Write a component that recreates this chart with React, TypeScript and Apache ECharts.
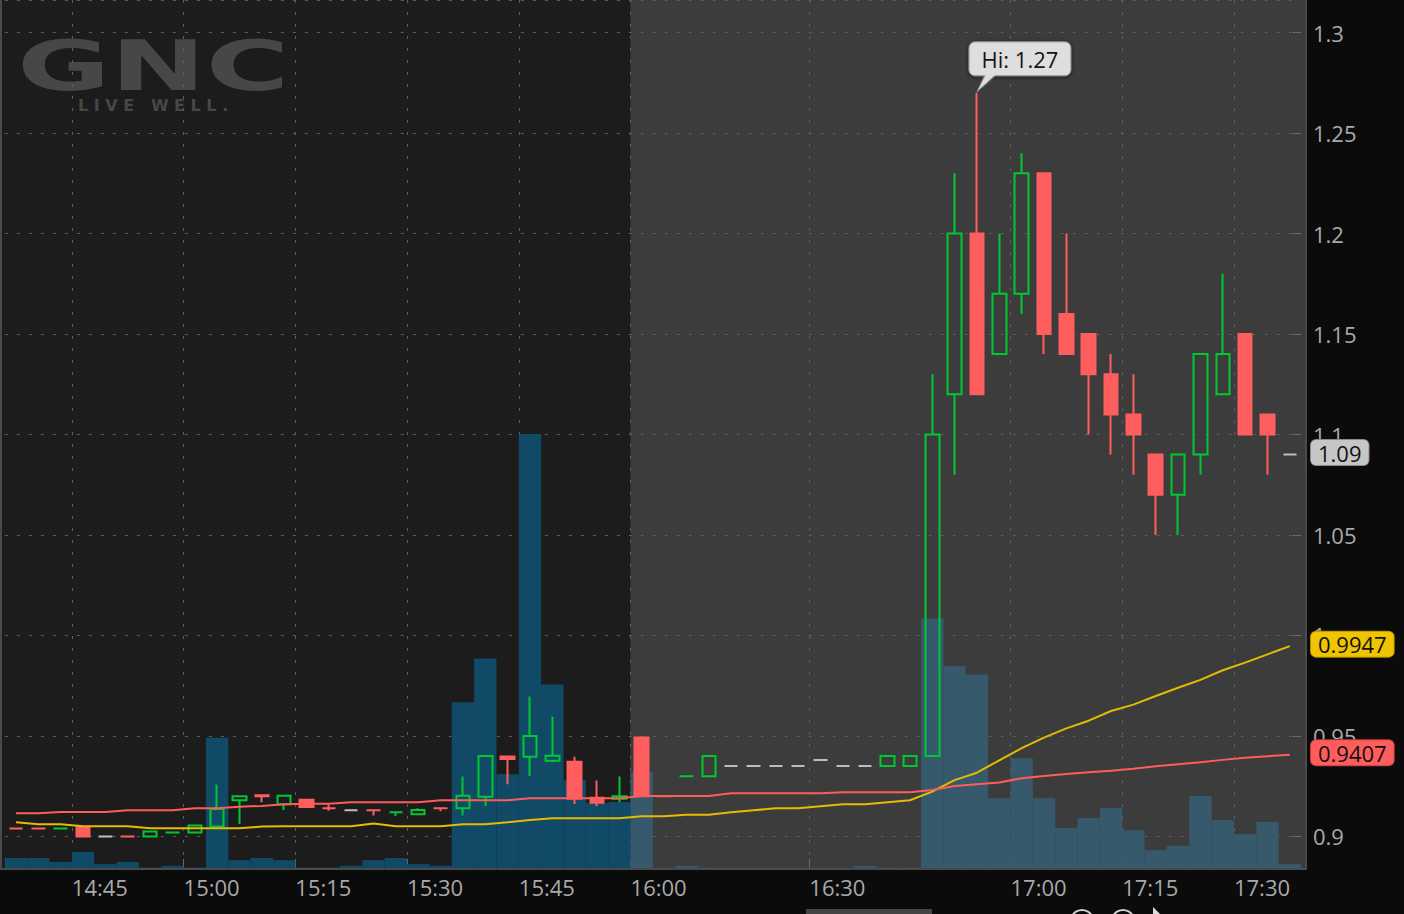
import React, { useEffect, useRef } from 'react';
import * as echarts from 'echarts';

// ---- data ----
const barTimes = [
  '14:36', '14:39', '14:42', '14:45', '14:48', '14:51', '14:54', '14:57',
  '15:00', '15:03', '15:06', '15:09', '15:12', '15:15', '15:18', '15:21', '15:24', '15:27',
  '15:30', '15:33', '15:36', '15:39', '15:42', '15:45', '15:48', '15:51', '15:54', '15:57',
  '16:00', '16:03', '16:06', '16:12', '16:18', '16:21', '16:24', '16:27',
  '16:30', '16:33', '16:36', '16:39', '16:42', '16:48', '16:51', '16:54', '16:57',
  '17:00', '17:03', '17:06', '17:09', '17:12', '17:15', '17:18', '17:21', '17:24', '17:27',
  '17:30', '17:33', '17:36',
];
const sessionEndTime = '17:39';
const extendedHoursStart = '16:00';

const opens = [
  0.904, 0.904, 0.904, 0.9045, 0.9, 0.9, 0.9, 0.902, 0.902, 0.905,
  0.918, 0.9205, 0.916, 0.9183, 0.914, 0.913, 0.913, 0.912, 0.911, 0.914,
  0.914, 0.9198, 0.9398, 0.9397, 0.9377, 0.9372, 0.9193, 0.9187, 0.9492, 0.92,
  0.93, 0.93, 0.935, 0.935, 0.935, 0.935, 0.938, 0.935, 0.935, 0.935,
  0.935, 0.94, 1.12, 1.2, 1.14, 1.17, 1.23, 1.16, 1.15, 1.13,
  1.11, 1.09, 1.07, 1.09, 1.12, 1.15, 1.11, 1.09,
];
const closes = [
  0.904, 0.904, 0.904, 0.9, 0.9, 0.9, 0.9025, 0.902, 0.9055, 0.9137,
  0.92, 0.92, 0.9203, 0.9147, 0.914, 0.913, 0.913, 0.912, 0.9132, 0.914,
  0.9203, 0.94, 0.9385, 0.95, 0.9402, 0.9187, 0.9168, 0.92, 0.92, 0.92,
  0.93, 0.94, 0.935, 0.935, 0.935, 0.935, 0.938, 0.935, 0.935, 0.94,
  0.94, 1.1, 1.2, 1.12, 1.17, 1.23, 1.15, 1.14, 1.13, 1.11,
  1.1, 1.07, 1.09, 1.14, 1.14, 1.1, 1.1, 1.09,
];
const lows = [
  0.904, 0.904, 0.904, 0.9, 0.9, 0.9, 0.9, 0.902, 0.902, 0.905,
  0.9062, 0.917, 0.9132, 0.9147, 0.9128, 0.913, 0.9104, 0.9102, 0.911, 0.9125,
  0.9104, 0.9152, 0.926, 0.93, 0.9369, 0.9162, 0.9152, 0.917, 0.92, 0.92,
  0.93, 0.93, 0.935, 0.935, 0.935, 0.935, 0.938, 0.935, 0.935, 0.935,
  0.935, 0.94, 1.08, 1.12, 1.14, 1.16, 1.14, 1.14, 1.1, 1.09,
  1.08, 1.05, 1.05, 1.08, 1.12, 1.1, 1.08, 1.09,
];
const highs = [
  0.904, 0.904, 0.904, 0.9045, 0.9, 0.9, 0.9027, 0.902, 0.9055, 0.9258,
  0.92, 0.9205, 0.9203, 0.9183, 0.9158, 0.913, 0.913, 0.912, 0.914, 0.914,
  0.9298, 0.94, 0.9398, 0.9696, 0.9596, 0.9397, 0.9278, 0.9298, 0.9492, 0.92,
  0.93, 0.94, 0.935, 0.935, 0.935, 0.935, 0.938, 0.935, 0.935, 0.94,
  0.94, 1.13, 1.23, 1.27, 1.2, 1.24, 1.23, 1.2, 1.15, 1.14,
  1.13, 1.09, 1.09, 1.14, 1.18, 1.15, 1.11, 1.09,
];
// candle tone as drawn: u = up (hollow green), d = down (red), n = unchanged (grey)
const tones = [
  'd', 'd', 'u', 'd', 'n', 'd', 'u', 'u', 'u', 'u',
  'u', 'd', 'u', 'd', 'd', 'n', 'd', 'u', 'u', 'd',
  'u', 'u', 'd', 'u', 'u', 'd', 'd', 'u', 'd', 'd',
  'u', 'u', 'n', 'n', 'n', 'n', 'n', 'n', 'n', 'u',
  'u', 'u', 'u', 'd', 'u', 'u', 'd', 'd', 'd', 'd',
  'd', 'd', 'u', 'u', 'u', 'd', 'd', 'n',
];
// volume in thousands of shares
const volumesK = [
  23, 23, 14, 37, 9, 14, 1, 5, 1, 300,
  18, 23, 18, 1, 1, 5, 18, 23, 9, 5,
  382, 483, 216, 1000, 423, 202, 150, 152, 221, 0.5,
  5, 1, 0.5, 0.5, 0.5, 0.5, 0.5, 0.5, 5, 1,
  1, 575, 465, 446, 161, 253, 161, 92, 115, 138,
  87, 41, 51, 166, 110, 78, 106, 9,
];
const maFast = [
  0.9071, 0.9061, 0.9061, 0.9051, 0.9051, 0.9051, 0.9041, 0.9041, 0.9041, 0.9041,
  0.9041, 0.9049, 0.9051, 0.9051, 0.9051, 0.9051, 0.9064, 0.9051, 0.9051, 0.9051,
  0.9061, 0.9061, 0.9071, 0.9082, 0.909, 0.909, 0.909, 0.909, 0.91, 0.91,
  0.9108, 0.9108, 0.912, 0.913, 0.914, 0.914, 0.915, 0.916, 0.916, 0.917,
  0.918, 0.9223, 0.928, 0.9317, 0.9379, 0.9439, 0.9492, 0.9538, 0.9576, 0.9624,
  0.9656, 0.9699, 0.974, 0.9779, 0.9827, 0.9865, 0.9906, 0.9947,
];
const maSlow = [
  0.9115, 0.9115, 0.9122, 0.9122, 0.9122, 0.913, 0.913, 0.913, 0.914, 0.914,
  0.9148, 0.9152, 0.916, 0.9163, 0.9163, 0.917, 0.917, 0.917, 0.917, 0.918,
  0.918, 0.918, 0.918, 0.919, 0.919, 0.919, 0.919, 0.919, 0.9201, 0.9201,
  0.9201, 0.9201, 0.9215, 0.9215, 0.9215, 0.9215, 0.9215, 0.922, 0.922, 0.922,
  0.922, 0.9231, 0.9251, 0.926, 0.9268, 0.929, 0.9301, 0.9311, 0.9319, 0.9327,
  0.9337, 0.9349, 0.9359, 0.9369, 0.9381, 0.9391, 0.9399, 0.9407,
];
const priceTicks = [0.9, 0.95, 1, 1.05, 1.1, 1.15, 1.2, 1.25, 1.3];
const priceRange = [0.8843, 1.3162];
const volumeAxisMaxK = 2000;
const logoText = 'GNC';
const logoTagline = 'L I V E   W E L L .';

// ---- styles ----
const FONT = "'Open Sans', sans-serif";
const GREEN = '#00c832';
const RED = '#ff5e5e';
const GREY = '#bdbdbd';
const YELLOW = '#e6bb00';
const SLOW_RED = '#ff5c5c';
const GRID_LINE = '#5e5e5e';
const AXIS_TEXT = '#a9a9a9';

const toneStyle: Record<string, { fill: string; stroke: string }> = {
  u: { fill: 'rgba(0,0,0,0)', stroke: GREEN },
  d: { fill: RED, stroke: RED },
  n: { fill: GREY, stroke: GREY },
};

export default function App() {
  const ref = useRef<HTMLDivElement>(null);

  useEffect(() => {
    const el = ref.current!;
    const chart = echarts.init(el, undefined, { renderer: 'svg' });

    const H = 914;
    const gridLeft = 4.8;
    const gridRight = 103;
    const gridBottom = 46;
    const plotBottom = H - gridBottom;
    const plotRightBorder = 1305;

    const boundaryTimes = [...barTimes, sessionEndTime];
    const isQuarter = (_i: number, v: string) => {
      const m = parseInt(String(v).split(':')[1], 10);
      return m % 15 === 0;
    };

    const candleData = barTimes.map((_, i) => {
      const s = toneStyle[tones[i]];
      return {
        value: [opens[i], closes[i], lows[i], highs[i]],
        itemStyle: {
          color: s.fill,
          color0: s.fill,
          borderColor: s.stroke,
          borderColor0: s.stroke,
          borderColorDoji: s.stroke,
        },
      };
    });

    const volumeData = barTimes.map((t, i) => ({
      value: volumesK[i],
      itemStyle: { color: t >= extendedHoursStart ? '#365a6c' : '#114a66' },
    }));

    const lastIdx = barTimes.length - 1;
    const lastClose = closes[lastIdx];
    const lastFast = maFast[lastIdx];
    const lastSlow = maSlow[lastIdx];

    const option: any = {
      animation: false,
      backgroundColor: '#0b0b0b',
      textStyle: { fontFamily: FONT },
      grid: { left: gridLeft, right: gridRight, top: 0, bottom: gridBottom, containLabel: false },
      xAxis: [
        {
          type: 'category',
          data: barTimes,
          boundaryGap: true,
          position: 'top',
          show: false,
        },
        {
          type: 'category',
          data: boundaryTimes,
          boundaryGap: false,
          position: 'bottom',
          axisLine: { show: false },
          axisTick: {
            show: true,
            inside: true,
            length: 9,
            interval: isQuarter,
            lineStyle: { color: '#6a6a6a', width: 1 },
          },
          splitLine: {
            show: true,
            interval: isQuarter,
            lineStyle: { color: GRID_LINE, type: [3, 9], width: 1 },
          },
          axisLabel: {
            interval: isQuarter,
            align: 'left',
            color: AXIS_TEXT,
            fontSize: 22,
            fontFamily: FONT,
            margin: 8,
          },
        },
      ],
      yAxis: [
        {
          type: 'value',
          position: 'right',
          min: priceRange[0],
          max: priceRange[1],
          splitNumber: 8,
          minInterval: 0.05,
          maxInterval: 0.05,
          scale: true,
          axisLine: { show: false },
          axisTick: { show: true, inside: true, length: 8, lineStyle: { color: '#6a6a6a' } },
          splitLine: { show: true, lineStyle: { color: GRID_LINE, type: [3, 9], width: 1 } },
          axisLabel: {
            color: AXIS_TEXT,
            fontSize: 22,
            fontFamily: FONT,
            margin: 12,
            padding: [4, 0, 0, 0],
            showMinLabel: false,
            showMaxLabel: false,
            formatter: (v: number) => {
              const r = Math.round(v * 100) / 100;
              return Math.abs(v - r) < 1e-6 && priceTicks.includes(r) ? String(r) : '';
            },
          },
        },
        {
          type: 'value',
          position: 'left',
          min: 0,
          max: volumeAxisMaxK,
          show: false,
          splitLine: { show: false },
        },
      ],
      series: [
        {
          name: 'Volume',
          type: 'bar',
          xAxisIndex: 0,
          yAxisIndex: 1,
          data: volumeData,
          barCategoryGap: '0%',
          silent: true,
        },
        {
          name: 'MA fast',
          type: 'line',
          xAxisIndex: 0,
          yAxisIndex: 0,
          data: maFast,
          showSymbol: false,
          silent: true,
          lineStyle: { color: YELLOW, width: 2 },
        },
        {
          name: 'MA slow',
          type: 'line',
          xAxisIndex: 0,
          yAxisIndex: 0,
          data: maSlow,
          showSymbol: false,
          silent: true,
          lineStyle: { color: SLOW_RED, width: 2 },
        },
        {
          name: 'GNC',
          type: 'candlestick',
          xAxisIndex: 0,
          yAxisIndex: 0,
          data: candleData,
          barWidth: 14,
          silent: true,
          itemStyle: { borderWidth: 2 },
        },
      ],
    };

    chart.setOption(option);

    // positions through the chart's own scales
    const ahX = chart.convertToPixel({ xAxisIndex: 1 }, extendedHoursStart) as number;
    const maxHigh = Math.max(...highs);
    const hiIdx = highs.indexOf(maxHigh);
    const [hx, hy] = chart.convertToPixel({ seriesIndex: 3 }, [hiIdx, maxHigh]) as number[];
    const yOf = (v: number) => (chart.convertToPixel({ seriesIndex: 3 }, [lastIdx, v]) as number[])[1];

    const priceTag = (value: number, text: string, bg: string, border: string) => ({
      type: 'text', silent: true, z: 40, x: 1311, y: yOf(value) - 2,
      style: {
        text,
        font: `22px ${FONT}`,
        fill: '#111',
        textVerticalAlign: 'middle',
        backgroundColor: bg,
        borderColor: border,
        borderWidth: 1,
        borderRadius: 5,
        padding: [2, 7, 1, 7],
      },
    });

    const calloutFill = '#dedede';
    const calloutStroke = '#8f8f8f';

    chart.setOption({
      graphic: [
        {
          type: 'rect', silent: true, z: -30,
          shape: { x: 2, y: 0, width: plotRightBorder - 2, height: plotBottom },
          style: { fill: '#1c1c1c' },
        },
        {
          type: 'rect', silent: true, z: -29,
          shape: { x: ahX, y: 0, width: plotRightBorder - ahX, height: plotBottom },
          style: { fill: '#3c3c3c' },
        },
        {
          type: 'text', silent: true, z: -20, x: 17, y: 66, scaleX: 1.65,
          style: {
            text: logoText,
            font: 'bold 69px "DejaVu Sans"',
            fill: '#474747',
            textVerticalAlign: 'middle',
          },
        },
        {
          type: 'text', silent: true, z: -20, x: 78, y: 105,
          style: {
            text: logoTagline,
            font: 'bold 16px "DejaVu Sans"',
            fill: '#474747',
            textVerticalAlign: 'middle',
          },
        },
        // plot borders
        { type: 'rect', silent: true, z: 20, shape: { x: 0, y: 0, width: 2, height: plotBottom + 2 }, style: { fill: '#4a4a4a' } },
        { type: 'rect', silent: true, z: 20, shape: { x: plotRightBorder, y: 0, width: 2, height: plotBottom + 2 }, style: { fill: '#4a4a4a' } },
        { type: 'rect', silent: true, z: 20, shape: { x: 0, y: plotBottom, width: plotRightBorder + 2, height: 2 }, style: { fill: '#4a4a4a' } },
        // last-value tags on the price scale
        priceTag(lastClose, String(lastClose), '#c6c6c6', '#8a8a8a'),
        priceTag(lastFast, lastFast.toFixed(4), '#f0c400', '#b08f00'),
        priceTag(lastSlow, lastSlow.toFixed(4), '#ff5c5c', '#c04040'),
        // high callout
        {
          type: 'rect', silent: true, z: 30,
          shape: { x: hx - 8, y: hy - 51, width: 102, height: 34, r: 6 },
          style: {
            fill: calloutFill, stroke: calloutStroke, lineWidth: 1,
            shadowBlur: 4, shadowColor: 'rgba(0,0,0,0.6)', shadowOffsetY: 1,
          },
        },
        {
          type: 'polygon', silent: true, z: 31,
          shape: { points: [[hx + 8, hy - 18.5], [hx + 19, hy - 18.5], [hx, hy - 1]] },
          style: { fill: calloutFill },
        },
        {
          type: 'polyline', silent: true, z: 31,
          shape: { points: [[hx + 8, hy - 17.5], [hx, hy - 1], [hx + 19, hy - 17.5]] },
          style: { stroke: calloutStroke, lineWidth: 1, fill: 'none' },
        },
        {
          type: 'text', silent: true, z: 32, x: hx + 43, y: hy - 34,
          style: {
            text: `Hi: ${maxHigh}`,
            font: `22px ${FONT}`,
            fill: '#151515',
            textAlign: 'center',
            textVerticalAlign: 'middle',
          },
        },
        // bottom toolbar remnants
        { type: 'rect', silent: true, z: 5, shape: { x: 806, y: 909, width: 126, height: 5 }, style: { fill: '#444' } },
        { type: 'circle', silent: true, z: 5, shape: { cx: 1082, cy: 921, r: 11 }, style: { fill: 'none', stroke: '#cfcfcf', lineWidth: 2 } },
        { type: 'circle', silent: true, z: 5, shape: { cx: 1123, cy: 921, r: 11 }, style: { fill: 'none', stroke: '#cfcfcf', lineWidth: 2 } },
        { type: 'polygon', silent: true, z: 5, shape: { points: [[1153, 907], [1153, 914], [1160, 914]] }, style: { fill: '#dcdcdc' } },
      ],
    });

    return () => chart.dispose();
  }, []);

  return (
    <div
      ref={ref}
      style={{ position: 'fixed', left: 0, top: 0, width: 1404, height: 914, background: '#0b0b0b' }}
    />
  );
}
